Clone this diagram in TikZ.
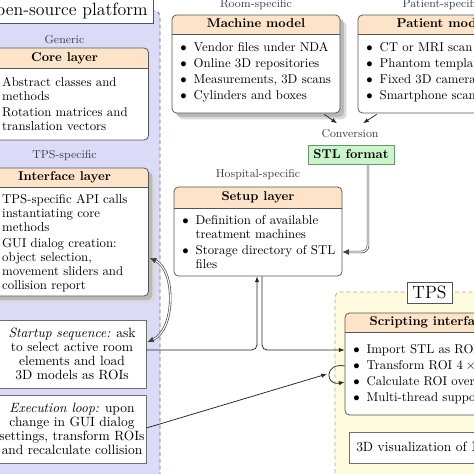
\documentclass[tikz,border=0pt]{standalone}
\usetikzlibrary{arrows.meta,calc,fit,shadows}
\definecolor{lavfill}{RGB}{219,219,248}
\definecolor{lavedge}{RGB}{95,105,165}
\definecolor{tpsfill}{RGB}{254,250,222}
\definecolor{tpsedge}{RGB}{185,175,115}
\definecolor{peach}{RGB}{253,228,200}
\definecolor{stlfill}{RGB}{202,245,202}
\definecolor{stledge}{RGB}{105,150,105}
\definecolor{boxedge}{RGB}{85,85,85}
\definecolor{lblcol}{RGB}{60,60,70}
\newcommand{\bodyfont}{\fontsize{10}{11}\selectfont}
\newcommand{\midfont}{\fontsize{10.5}{11}\selectfont}
\newcommand{\bigtitlefont}{\fontsize{13.9}{16}\selectfont}
\begin{document}
\begin{tikzpicture}[x=0.78125pt,y=-0.78125pt,
  layer/.style={draw=boxedge, fill=white, rounded corners=3.5pt, line width=0.6pt, inner sep=0pt,
    path picture={\fill[peach, sharp corners] (path picture bounding box.north west) rectangle ([yshift=-#1]path picture bounding box.north east);
      \draw[boxedge, line width=0.6pt, sharp corners] ([yshift=-#1]path picture bounding box.north west) -- ([yshift=-#1]path picture bounding box.north east);}},
  shad/.style={drop shadow={shadow xshift=5pt, shadow yshift=-5pt, fill=gray!30, opacity=1},
               drop shadow={shadow xshift=3pt, shadow yshift=-3pt, fill=gray!55, opacity=1}},
  hdrtxt/.style={font=\bfseries, inner sep=0pt, text height=6.9pt, text depth=1.9pt},
  bodytxt/.style={anchor=base west, inner sep=0pt, font=\bodyfont},
  lbl/.style={font=\small, text=lblcol, inner sep=1pt},
  plainbox/.style={draw=boxedge!85, fill=white, line width=0.6pt, inner sep=0pt},
  lavpanel/.style={draw=lavedge, fill=lavfill, dash pattern=on 3pt off 2.3pt, line width=0.6pt, rounded corners=4pt, inner sep=0pt},
  tpspanel/.style={draw=tpsedge, fill=tpsfill, dash pattern=on 3pt off 2.3pt, line width=0.6pt, rounded corners=4pt, inner sep=0pt},
  arr/.style={-{Latex[length=4.5pt,width=3.4pt]}, line width=0.6pt, draw=black!85},
  dbl/.style={draw=black!75, double=white, double distance=0.9pt, line width=0.5pt}
]
\useasboundingbox (0,0) rectangle (474,474);
\clip (0,0) rectangle (474,474);

% panels
\node[lavpanel, fit={(-60,11) (160,620)}] (platform) {};
\node[tpspanel, fit={(335,292) (620,620)}] (tps) {};

% left title
\node[plainbox, draw=boxedge, fit={(-60,-3) (153,23)}] (titlebox) {};
\node[anchor=base east, inner sep=0pt, font=\bigtitlefont] (titletxt) at (148,15.5) {Open-source platform};

% labels
\node[lbl] (lgen) at (64.5,40) {Generic};
\node[lbl] (ltps) at (64.5,156) {TPS-specific};
\node[lbl] (lroom) at (256,5) {Room-specific};
\node[lbl] (lpat) at (442,5) {Patient-specific};
\node[lbl] (lhosp) at (258,175) {Hospital-specific};
\node[lbl] (conv) at (350,134) {Conversion};

% core layer
\node[layer=15.6pt, fit={(-19.5,48) (148.5,140)}] (core) {};
\node[hdrtxt] (coreh) at (64.5,58) {Core layer};
\node[bodytxt] (coreb) at (-11.5,86) {\begin{tabular}[t]{@{}l@{\hspace{5.5pt}}l@{}}$\bullet$ & Abstract classes and\\ & methods\\[1.6pt] $\bullet$ & Rotation matrices and\\ & translation vectors\end{tabular}};

% interface layer
\node[layer=14.8pt, shad, fit={(-19.5,168) (148.5,296)}] (iface) {};
\node[hdrtxt] (ifaceh) at (64.5,177.5) {Interface layer};
\node[bodytxt] (ifaceb) at (-11.5,203) {\begin{tabular}[t]{@{}l@{\hspace{5.5pt}}l@{}}$\bullet$ & TPS-specific API calls\\ & instantiating core\\ & methods\\[1.6pt] $\bullet$ & GUI dialog creation:\\ & object selection,\\ & movement sliders and\\ & collision report\end{tabular}};

% startup / execution
\node[plainbox, minimum width=115.6pt, minimum height=53.1pt, align=center, font=\midfont] (startup) at (72,354) {\textit{Startup sequence:} ask\\to select active room\\elements and load\\3D models as ROIs};
\node[plainbox, minimum width=115.6pt, minimum height=53.1pt, align=center, font=\midfont] (exec) at (72,429) {\textit{Execution loop:} upon\\change in GUI dialog\\settings, transform ROIs\\and recalculate collision};

% machine model
\node[layer=14.8pt, shad, fit={(172,15) (340,113)}] (machine) {};
\node[hdrtxt] (machineh) at (256,24.5) {Machine model};
\node[bodytxt] (machineb) at (180,51) {\begin{tabular}[t]{@{}l@{\hspace{5.5pt}}l@{}}$\bullet$ & Vendor files under NDA\\[1.6pt] $\bullet$ & Online 3D repositories\\[1.6pt] $\bullet$ & Measurements, 3D scans\\[1.6pt] $\bullet$ & Cylinders and boxes\end{tabular}};

% patient model
\node[layer=14.8pt, fit={(358,15) (526,113)}] (patient) {};
\node[hdrtxt] (patienth) at (442,24.5) {Patient model};
\node[bodytxt] (patientb) at (366,51) {\begin{tabular}[t]{@{}l@{\hspace{5.5pt}}l@{}}$\bullet$ & CT or MRI scan\\[1.6pt] $\bullet$ & Phantom template\\[1.6pt] $\bullet$ & Fixed 3D camera\\[1.6pt] $\bullet$ & Smartphone scan\end{tabular}};

% STL
\node[draw=stledge, fill=stlfill, line width=0.6pt, minimum width=67.2pt, minimum height=14.8pt, inner sep=0pt, font=\bfseries] (stl) at (351,154.5) {STL format};

% setup layer
\node[layer=16.4pt, fit={(174,187) (342,276)}] (setup) {};
\node[hdrtxt] (setuph) at (258,197.5) {Setup layer};
\node[bodytxt] (setupb) at (182,224) {\begin{tabular}[t]{@{}l@{\hspace{5.5pt}}l@{}}$\bullet$ & Definition of available\\ & treatment machines\\[1.6pt] $\bullet$ & Storage directory of STL\\ & files\end{tabular}};

% TPS title
\node[plainbox, draw=boxedge, minimum width=35.2pt, minimum height=16.4pt, font=\bigtitlefont] (tpstitle) at (429.5,292.5) {TPS};

% scripting interface
\node[layer=14.8pt, fit={(345,313) (513,415)}] (script) {};
\node[hdrtxt] (scripth) at (429,322.5) {Scripting interface};
\node[bodytxt] (scriptb) at (353,353) {\begin{tabular}[t]{@{}l@{\hspace{5.5pt}}l@{}}$\bullet$ & Import STL as ROIs\\[1.6pt] $\bullet$ & Transform ROI $4\times4$\\[1.6pt] $\bullet$ & Calculate ROI overlap\\[1.6pt] $\bullet$ & Multi-thread support\end{tabular}};

% visualization
\node[plainbox, fit={(349,432) (620,463)}] (vis) {};
\node[anchor=base west, inner sep=0pt, font=\midfont] (vistxt) at (356,451) {3D visualization of \textbf{ROIs}};

% connectors
\draw[arr] ($(machine.south east)+(-16,1)$) -- ($(conv.north)+(-13,-5)$);
\draw[arr] ($(patient.south west)+(19,1)$) -- ($(conv.north)+(13,-5)$);
\draw[dbl, rounded corners=5pt, -{Latex[length=5pt,width=4.5pt]}] ($(stl.south)+(17,0)$) |- ($(setup.east)+(0,20.5)$);
\draw[dbl, {Latex[length=5pt,width=4.5pt]}-{Latex[length=5pt,width=4.5pt]}] ($(iface.east)+(1,26)$) .. controls ($(iface.east)+(27,38)$) and ($(startup.east)+(29,-24)$) .. ($(startup.east)+(1,-12)$);
\draw[arr, rounded corners=4pt] ($(startup.east)+(0,-4)$) -| ($(setup.south)+(-1,0)$);
\draw[arr, rounded corners=4pt] ($(setup.south)+(4,0)$) |- ($(script.west)+(0,-14)$);
\coordinate (looptip) at (327,374);
\draw[arr] ($(exec.east)+(0,-1)$) -- (looptip);
\draw[arr] ($(script.west)+(0,2)$) .. controls +(-20,-4) and +(-20,4) .. ($(script.west)+(0,18)$);
\end{tikzpicture}
\end{document}
